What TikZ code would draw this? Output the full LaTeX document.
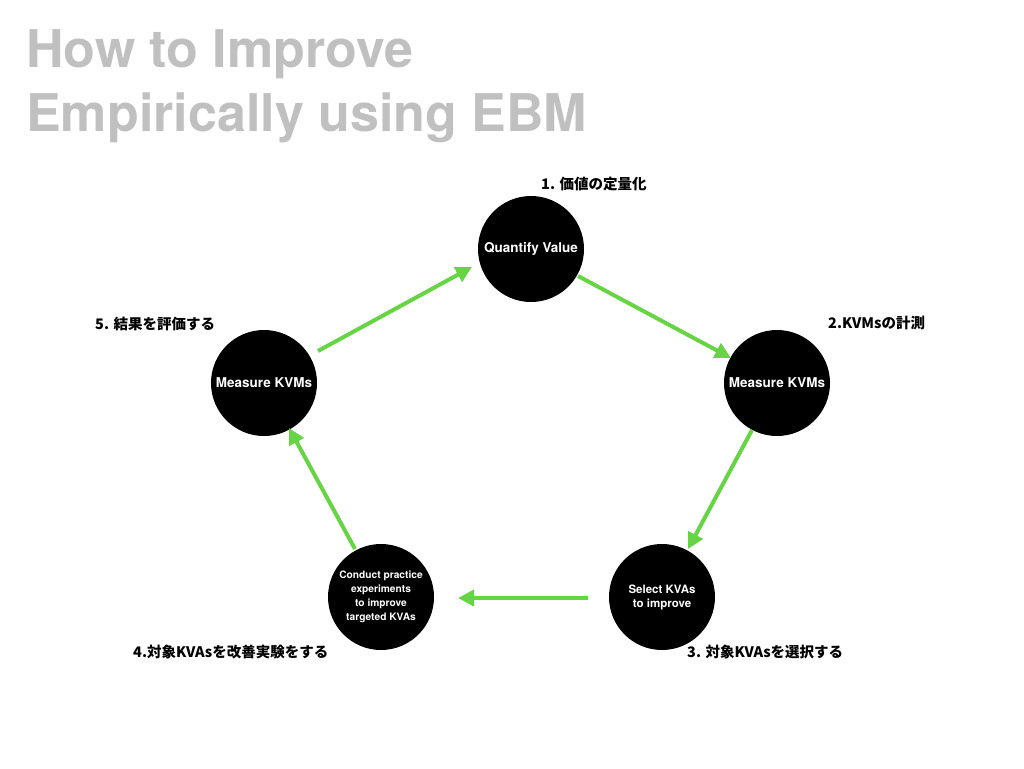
\documentclass[tikz,border=0pt]{standalone}
\usepackage{fontspec}
\setmainfont{TeX Gyre Heros}
\newfontfamily\jp{Noto Sans CJK JP}
\usetikzlibrary{arrows.meta}
\definecolor{arrowgreen}{RGB}{102,212,68}
\definecolor{titlegray}{RGB}{192,192,192}
\tikzset{
  stage/.style={circle,fill=black,minimum size=106pt,inner sep=0pt,text=white,font=\bfseries\fontsize{13.5}{15}\selectfont,align=center},
  flow/.style={draw=arrowgreen,line width=4pt,-{Triangle[length=16pt,width=16pt]},shorten >=0pt},
  steplabel/.style={font=\jp\bfseries\fontsize{14.5}{16}\selectfont,anchor=west,inner sep=0pt},
  titletext/.style={anchor=base west,inner sep=0pt,text=titlegray,font=\bfseries\fontsize{52}{56}\selectfont}
}
\begin{document}
\begin{tikzpicture}[x=1pt,y=-1pt]
\useasboundingbox (0,0) rectangle (1024,768);
% title
\node[titletext] (t1) at (26,67) {How to Improve};
\node[titletext] (t2) at (26,131) {Empirically using EBM};
% circles
\node[stage] (c1) at (531,249) {Quantify Value};
\node[stage] (c2) at (777,383) {Measure KVMs};
\node[stage,font=\bfseries\fontsize{11.5}{14}\selectfont] (c3) at (662,597) {Select KVAs\\to improve};
\node[stage,font=\bfseries\fontsize{10.2}{14}\selectfont] (c4) at (381,597) {Conduct practice\\experiments\\to improve\\targeted KVAs};
\node[stage] (c5) at (264,383) {Measure KVMs};
% arrow endpoints
\coordinate (a1s) at (318,351); \coordinate (a1e) at (472,267);
\coordinate (a2s) at (578,276); \coordinate (a2e) at (731,358);
\coordinate (a3s) at (752,430); \coordinate (a3e) at (688,549);
\coordinate (a4s) at (588,598); \coordinate (a4e) at (458,598);
\coordinate (a5s) at (355,549); \coordinate (a5e) at (289,428);
\draw[flow] (a1s) -- (a1e);
\draw[flow] (a2s) -- (a2e);
\draw[flow] (a3s) -- (a3e);
\draw[flow] (a4s) -- (a4e);
\draw[flow] (a5s) -- (a5e);
% labels
\node[steplabel] (l1) at (541,184) {1. 価値の定量化};
\node[steplabel] (l2) at (828,323) {2.KVMsの計測};
\node[steplabel] (l3) at (687,652) {3. 対象KVAsを選択する};
\node[steplabel] (l4) at (133,652) {4.対象KVAsを改善実験をする};
\node[steplabel] (l5) at (95,324) {5. 結果を評価する};
\end{tikzpicture}
\end{document}
